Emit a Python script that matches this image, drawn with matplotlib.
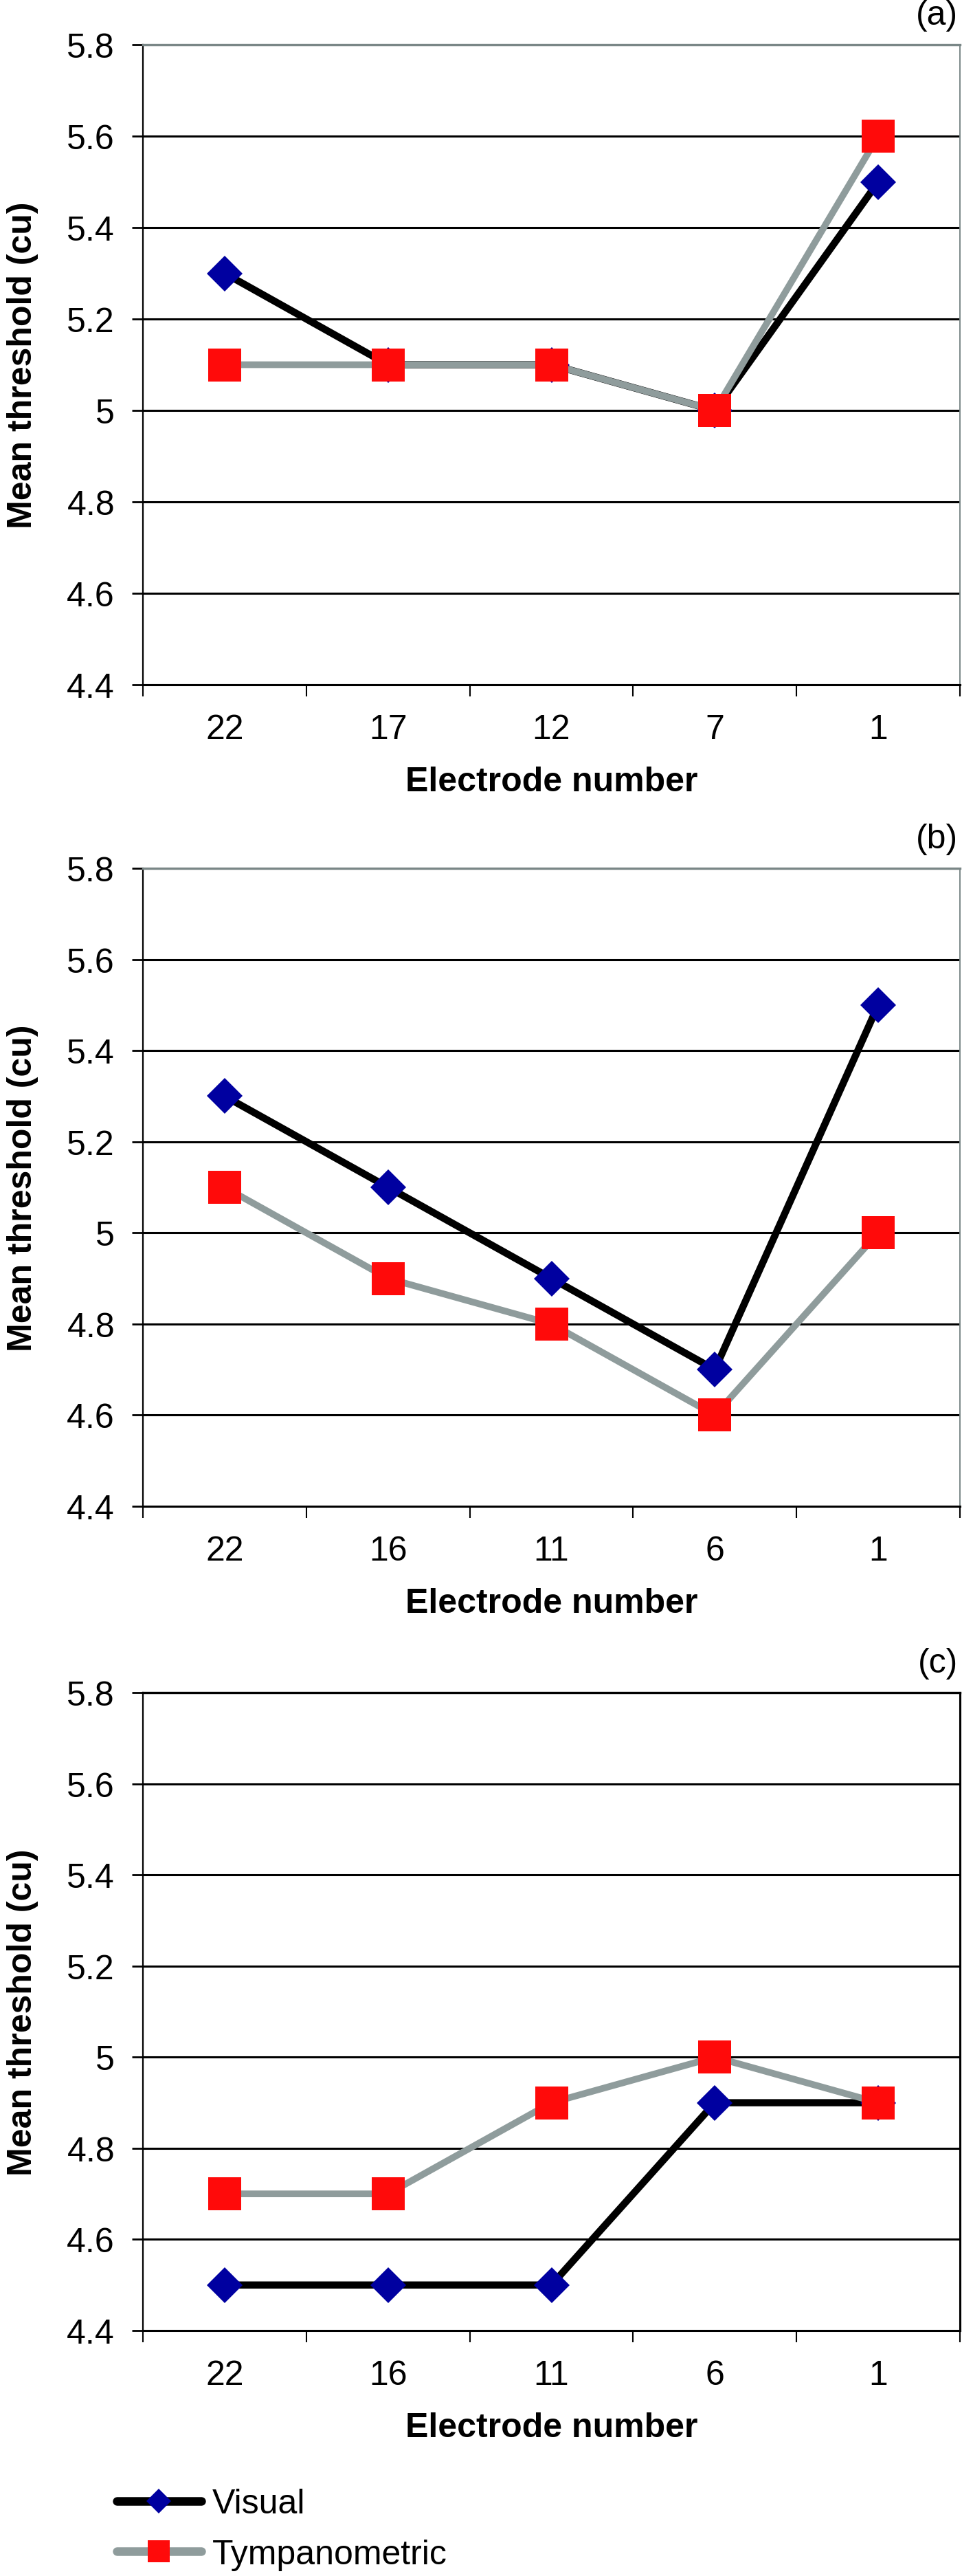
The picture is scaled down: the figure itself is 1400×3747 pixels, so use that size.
import matplotlib
matplotlib.use("Agg")
import matplotlib.pyplot as plt
from matplotlib.lines import Line2D
from matplotlib.ticker import FixedLocator, NullFormatter

plt.rcParams['font.family'] = ['Liberation Sans', 'DejaVu Sans']

# ---- data ----
electrodes_a = ["22", "17", "12", "7", "1"]
visual_a = [5.3, 5.1, 5.1, 5.0, 5.5]
tymp_a = [5.1, 5.1, 5.1, 5.0, 5.6]

electrodes_b = ["22", "16", "11", "6", "1"]
visual_b = [5.3, 5.1, 4.9, 4.7, 5.5]
tymp_b = [5.1, 4.9, 4.8, 4.6, 5.0]

electrodes_c = ["22", "16", "11", "6", "1"]
visual_c = [4.5, 4.5, 4.5, 4.9, 4.9]
tymp_c = [4.7, 4.7, 4.9, 5.0, 4.9]

panel_labels = ["(a)", "(b)", "(c)"]
y_ticks = [4.4, 4.6, 4.8, 5.0, 5.2, 5.4, 5.6, 5.8]
y_ticklabels = ["4.4", "4.6", "4.8", "5", "5.2", "5.4", "5.6", "5.8"]

# ---- style ----
W, H = 1400, 3748
DPI = 100
FS = 36
BLACK = "black"
GREY = "#8F9C9C"
FRAME_GREY = "#7A8787"
BLUE = "#0000A0"
RED = "#FF0A0A"

fig = plt.figure(figsize=(W / DPI, H / DPI), dpi=DPI)

# axes boxes in pixels (left, top, right, bottom)
boxes = [(208, 66, 1397, 997), (208, 1264, 1397, 2192), (208, 2463, 1397, 3391)]
top_colors = [FRAME_GREY, FRAME_GREY, BLACK]
top_widths = [2.4, 2.4, 2.4]
right_widths = [1.4, 1.4, 2.2]

panels = [(electrodes_a, visual_a, tymp_a),
          (electrodes_b, visual_b, tymp_b),
          (electrodes_c, visual_c, tymp_c)]

for i, ((labels, vis, tym), (l, t, r, b)) in enumerate(zip(panels, boxes)):
    ax = fig.add_axes([l / W, 1 - b / H, (r - l) / W, (b - t) / H])
    x = list(range(len(labels)))
    ax.plot(x, vis, color=BLACK, lw=7.5, marker="D", ms=26, mfc=BLUE,
            mec=BLUE, mew=0, zorder=3, solid_capstyle="butt")
    ax.plot(x, tym, color=GREY, lw=7.0, marker="s", ms=34, mfc=RED,
            mec=RED, mew=0, zorder=4, solid_capstyle="butt")
    ax.set_xlim(-0.5, len(labels) - 0.5)
    ax.set_ylim(4.4, 5.8)

    # x ticks: marks at category boundaries, labels at centres
    ax.xaxis.set_major_locator(FixedLocator([k - 0.5 for k in range(len(labels) + 1)]))
    ax.xaxis.set_major_formatter(NullFormatter())
    ax.xaxis.set_minor_locator(FixedLocator(x))
    ax.set_xticklabels(labels, minor=True)
    ax.tick_params(axis="x", which="major", direction="out", length=12.2,
                   width=1.5, color=BLACK)
    ax.tick_params(axis="x", which="minor", length=0, pad=30, labelsize=FS)

    ax.set_yticks(y_ticks)
    ax.set_yticklabels(y_ticklabels)
    ax.tick_params(axis="y", direction="out", length=11.5, width=2.0,
                   pad=18, labelsize=FS)

    ax.yaxis.grid(True, color=BLACK, lw=2.2, zorder=0)
    ax.set_axisbelow(True)

    ax.spines["left"].set_linewidth(1.6)
    ax.spines["bottom"].set_linewidth(2.2)
    ax.spines["top"].set_color(top_colors[i])
    ax.spines["top"].set_linewidth(top_widths[i])
    ax.spines["right"].set_color(top_colors[i])
    ax.spines["right"].set_linewidth(right_widths[i])

    ax.set_xlabel("Electrode number", fontsize=FS, fontweight="bold", labelpad=22)
    ax.set_ylabel("Mean threshold (cu)", fontsize=FS, fontweight="bold", labelpad=30)

    fig.text(1394 / W, 1 - (t - 43) / H, panel_labels[i], fontsize=FS,
             ha="right", va="center")

handles = [
    Line2D([], [], color=BLACK, lw=9, marker="D", ms=18, mfc=BLUE, mec=BLUE,
           mew=0, solid_capstyle="round"),
    Line2D([], [], color=GREY, lw=9, marker="s", ms=23, mfc=RED, mec=RED,
           mew=0, solid_capstyle="round"),
]
fig.legend(handles, ["Visual", "Tympanometric"], loc="center left",
           bbox_to_anchor=(170 / W, 1 - 3680 / H), frameon=False,
           fontsize=FS, handlelength=2.45, handletextpad=0.32,
           labelspacing=0.55, borderpad=0, borderaxespad=0)

fig.savefig("out.png", dpi=DPI)
